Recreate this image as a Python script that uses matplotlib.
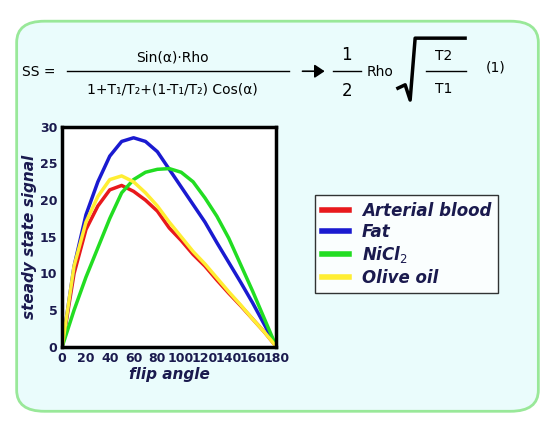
import matplotlib
matplotlib.use("Agg")
import matplotlib.pyplot as plt
from matplotlib.patches import FancyBboxPatch, FancyArrowPatch
from matplotlib.lines import Line2D

angles = list(range(0, 181, 10))
arterial = [0, 10, 16, 19.2, 21.4, 22, 21.2, 20, 18.5, 16.2, 14.5, 12.6, 11, 9.1, 7.3, 5.6, 3.8, 2, 0]
fat = [0, 11, 18, 22.5, 26, 28, 28.5, 28, 26.6, 24.2, 21.8, 19.4, 17, 14.2, 11.5, 8.8, 6, 3, 0]
nicl = [0, 5, 9.5, 13.5, 17.5, 21, 22.8, 23.8, 24.2, 24.3, 23.8, 22.5, 20.3, 17.8, 14.8, 11.2, 7.6, 3.8, 0]
olive = [0, 11, 17, 20.5, 22.8, 23.3, 22.5, 21, 19.2, 17, 15, 13, 11.3, 9.4, 7.5, 5.7, 3.8, 2, 0]
labels = ["Arterial blood", "Fat", "NiCl$_2$", "Olive oil"]
colors = ["#e8191c", "#1a1ad0", "#22dd22", "#ffee33"]
xticks = [0, 20, 40, 60, 80, 100, 120, 140, 160, 180]
yticks = [0, 5, 10, 15, 20, 25, 30]
navy = "#1a1a4e"

fig = plt.figure(figsize=(5.55, 4.24), dpi=100)
fig.patch.set_facecolor("white")
bg = FancyBboxPatch((0.03, 0.03), 0.94, 0.92, boxstyle="round,pad=0,rounding_size=0.05",
                    transform=fig.transFigure, facecolor="#eafcfc", edgecolor="#99e899", lw=2,
                    zorder=-10)
fig.patches.append(bg)

# formula
fig.text(0.04, 0.83, "SS =", fontsize=10, va="center")
fig.text(0.31, 0.865, "Sin(α)·Rho", fontsize=10, ha="center", va="center")
fig.lines.append(Line2D([0.12, 0.52], [0.832, 0.832], color="black", lw=1, transform=fig.transFigure))
fig.text(0.31, 0.79, "1+T₁/T₂+(1-T₁/T₂) Cos(α)", fontsize=10, ha="center", va="center")
fig.add_artist(FancyArrowPatch((0.54, 0.832), (0.59, 0.832),
                               transform=fig.transFigure, arrowstyle="-|>,head_length=6,head_width=4",
                               color="black", lw=1.2))
fig.text(0.625, 0.87, "1", fontsize=12, ha="center", va="center")
fig.lines.append(Line2D([0.6, 0.65], [0.832, 0.832], color="black", lw=1, transform=fig.transFigure))
fig.text(0.625, 0.785, "2", fontsize=12, ha="center", va="center")
fig.text(0.66, 0.83, "Rho", fontsize=10, va="center")
fig.lines.append(Line2D([0.717, 0.73, 0.739, 0.748, 0.838], [0.792, 0.8, 0.764, 0.91, 0.91],
                        color="black", lw=2.5, transform=fig.transFigure))
fig.lines.append(Line2D([0.768, 0.84], [0.832, 0.832], color="black", lw=1, transform=fig.transFigure))
fig.text(0.8, 0.868, "T2", fontsize=10, ha="center", va="center")
fig.text(0.8, 0.79, "T1", fontsize=10, ha="center", va="center")
fig.text(0.875, 0.84, "(1)", fontsize=10, va="center")

ax = fig.add_axes([0.112, 0.182, 0.386, 0.519])
ax.set_facecolor("white")
for y, c, lab in zip([arterial, fat, nicl, olive], colors, labels):
    ax.plot(angles, y, color=c, lw=2.5, label=lab)
ax.set_xlim(0, 180)
ax.set_ylim(0, 30)
ax.set_xticks(xticks)
ax.set_yticks(yticks)
ax.tick_params(length=0, labelsize=9, labelcolor=navy)
for t in ax.get_xticklabels() + ax.get_yticklabels():
    t.set_fontweight("bold")
for s in ax.spines.values():
    s.set_linewidth(2.5)
ax.set_xlabel("flip angle", fontsize=11, fontweight="bold", style="italic", color=navy, labelpad=2)
ax.set_ylabel("steady state signal", fontsize=11, fontweight="bold", style="italic", color=navy, labelpad=2)

leg = fig.legend(loc="upper left", bbox_to_anchor=(0.553, 0.56), fancybox=False, frameon=True,
                 prop={"size": 12, "weight": "bold", "style": "italic"}, handlelength=1.6,
                 borderpad=0.4, labelspacing=0.2, edgecolor="black")
leg.get_frame().set_linewidth(1)
for t in leg.get_texts():
    t.set_color(navy)
for h in leg.legend_handles:
    h.set_linewidth(4)

fig.savefig("out.png", dpi=100, facecolor=fig.get_facecolor())
